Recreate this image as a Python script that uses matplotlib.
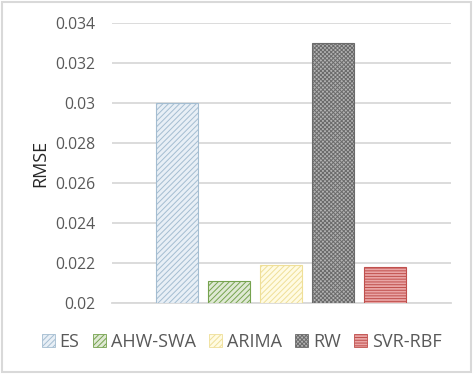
import matplotlib
matplotlib.use("Agg")
import matplotlib.pyplot as plt
from matplotlib.patches import Rectangle, Patch

categories = ["ES", "AHW-SWA", "ARIMA", "RW", "SVR-RBF"]
rmse = [0.0300, 0.0211, 0.0219, 0.0330, 0.0218]
yticks = [0.02, 0.022, 0.024, 0.026, 0.028, 0.03, 0.032, 0.034]
ytick_labels = ["0.02", "0.022", "0.024", "0.026", "0.028", "0.03", "0.032", "0.034"]

faces = ["#e8eff6", "#dfe9d4", "#fffbe3", "#b2b2b2", "#e9a5a5"]
hatch_cols = ["#a4bdd1", "#76a34f", "#efdf98", "#6b6b6b", "#c0504d"]
hatches = ["//////", "//////", "//////", "xxxxxxxx", "------"]

plt.rcParams["font.family"] = ["Open Sans", "DejaVu Sans"]
plt.rcParams["hatch.linewidth"] = 0.7

fig = plt.figure(figsize=(4.74, 3.74), dpi=100)
ax = fig.add_axes([0.236, 0.19, 0.715, 0.7485])

handles = []
for i, (c, v) in enumerate(zip(categories, rmse)):
    ax.bar(i, v - 0.02, bottom=0.02, width=0.81, facecolor=faces[i],
           edgecolor=hatch_cols[i], hatch=hatches[i], linewidth=0.8, zorder=3)
    handles.append(Patch(facecolor=faces[i], edgecolor=hatch_cols[i],
                         hatch=hatches[i], linewidth=0.6, label=c))

ax.set_xlim(-1.26, 5.26)
ax.set_ylim(0.02, 0.034)
ax.set_yticks(yticks)
ax.set_yticklabels(ytick_labels)
ax.set_xticks([])
ax.grid(axis="y", color="#d9d9d9", linewidth=1.3, zorder=0)
for s in ["top", "right", "left"]:
    ax.spines[s].set_visible(False)
ax.spines["bottom"].set_color("#d9d9d9")
ax.spines["bottom"].set_linewidth(1.3)
ax.tick_params(axis="y", length=0, labelsize=11.3, labelcolor="#595959", pad=12)
ax.set_ylabel("RMSE", fontsize=13, color="#262626", labelpad=4)

fig.legend(handles=handles, loc="center", bbox_to_anchor=(0.51, 0.086), ncol=5,
           frameon=False, fontsize=13, labelcolor="#595959", handlelength=0.7,
           handleheight=0.7, handletextpad=0.27, columnspacing=0.76)

fig.patches.append(Rectangle((0.004, 0.005), 0.99, 0.99, transform=fig.transFigure,
                             fill=False, edgecolor="#d9d9d9", linewidth=1.5))

fig.savefig("out.png", dpi=100)
